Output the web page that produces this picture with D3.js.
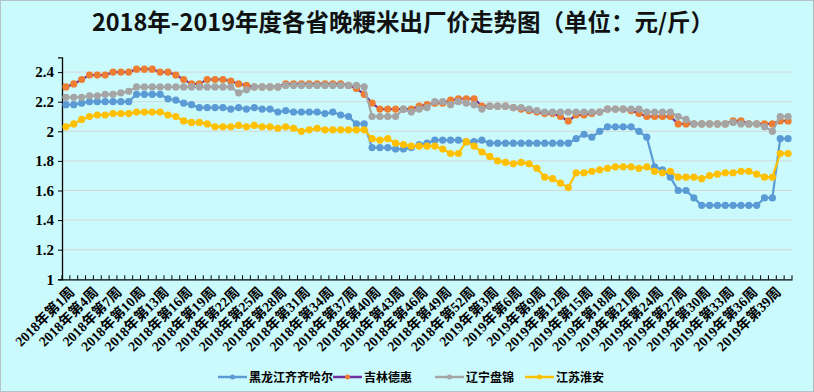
<!DOCTYPE html>
<html><head><meta charset="utf-8">
<script src="https://cdn.jsdelivr.net/npm/d3@7"></script>
<style>
html,body{margin:0;padding:0;background:#CBFAFC;}
svg{display:block;}
</style></head>
<body>
<svg id="c" width="814" height="392"></svg>
<script>
const weeks2018 = ["2018年第1周","2018年第2周","2018年第3周","2018年第4周","2018年第5周","2018年第6周","2018年第7周","2018年第8周","2018年第9周","2018年第10周","2018年第11周","2018年第12周","2018年第13周","2018年第14周","2018年第15周","2018年第16周","2018年第17周","2018年第18周","2018年第19周","2018年第20周","2018年第21周","2018年第22周","2018年第23周","2018年第24周","2018年第25周","2018年第26周","2018年第27周","2018年第28周","2018年第29周","2018年第30周","2018年第31周","2018年第32周","2018年第33周","2018年第34周","2018年第35周","2018年第36周","2018年第37周","2018年第38周","2018年第39周","2018年第40周","2018年第41周","2018年第42周","2018年第43周","2018年第44周","2018年第45周","2018年第46周","2018年第47周","2018年第48周","2018年第49周","2018年第50周","2018年第51周","2018年第52周"];
const weeks2019 = ["2019年第1周","2019年第2周","2019年第3周","2019年第4周","2019年第5周","2019年第6周","2019年第7周","2019年第8周","2019年第9周","2019年第10周","2019年第11周","2019年第12周","2019年第13周","2019年第14周","2019年第15周","2019年第16周","2019年第17周","2019年第18周","2019年第19周","2019年第20周","2019年第21周","2019年第22周","2019年第23周","2019年第24周","2019年第25周","2019年第26周","2019年第27周","2019年第28周","2019年第29周","2019年第30周","2019年第31周","2019年第32周","2019年第33周","2019年第34周","2019年第35周","2019年第36周","2019年第37周","2019年第38周","2019年第39周","2019年第40周","2019年第41周"];
const categories = weeks2018.concat(weeks2019);

const seriesNames = ["黑龙江齐齐哈尔","吉林德惠","辽宁盘锦","江苏淮安"];

const heilongjiang = [2.18,2.18,2.19,2.20,2.20,2.20,2.20,2.20,2.20,2.25,2.25,2.25,2.25,2.22,2.21,2.19,2.18,2.16,2.16,2.16,
2.16,2.15,2.16,2.15,2.16,2.15,2.15,2.13,2.14,2.13,2.13,2.13,2.13,2.12,2.13,2.11,2.10,2.05,2.05,1.89,
1.89,1.89,1.88,1.88,1.89,1.91,1.92,1.94,1.94,1.94,1.94,1.93,1.93,1.94,1.92,1.92,1.92,1.92,1.92,1.92,
1.92,1.92,1.92,1.92,1.92,1.95,1.98,1.96,2.00,2.03,2.03,2.03,2.03,2.00,1.96,1.76,1.74,1.69,1.60,1.60,
1.55,1.50,1.50,1.50,1.50,1.50,1.50,1.50,1.50,1.55,1.55,1.95,1.95];

const jilin = [2.30,2.32,2.35,2.38,2.38,2.38,2.40,2.40,2.40,2.42,2.42,2.42,2.40,2.40,2.38,2.35,2.32,2.32,2.35,2.35,
2.35,2.34,2.32,2.31,2.30,2.30,2.30,2.30,2.32,2.32,2.32,2.32,2.32,2.32,2.32,2.32,2.31,2.29,2.25,2.19,
2.15,2.15,2.15,2.15,2.15,2.17,2.18,2.19,2.19,2.21,2.22,2.22,2.22,2.17,2.17,2.17,2.17,2.16,2.15,2.14,
2.13,2.12,2.12,2.10,2.07,2.11,2.11,2.12,2.13,2.15,2.15,2.15,2.14,2.12,2.10,2.10,2.10,2.10,2.05,2.05,
2.05,2.05,2.05,2.05,2.05,2.07,2.07,2.05,2.05,2.05,2.05,2.07,2.07];

const liaoning = [2.23,2.23,2.23,2.24,2.24,2.25,2.25,2.26,2.27,2.30,2.30,2.30,2.30,2.30,2.30,2.30,2.30,2.30,2.30,2.30,
2.30,2.30,2.26,2.28,2.30,2.30,2.30,2.30,2.31,2.31,2.31,2.31,2.31,2.31,2.31,2.31,2.31,2.31,2.30,2.10,
2.10,2.10,2.10,2.15,2.13,2.15,2.16,2.20,2.20,2.18,2.20,2.19,2.18,2.15,2.17,2.17,2.17,2.16,2.16,2.15,
2.14,2.13,2.13,2.13,2.13,2.13,2.13,2.13,2.13,2.15,2.15,2.15,2.15,2.15,2.13,2.13,2.13,2.13,2.10,2.08,
2.05,2.05,2.05,2.05,2.05,2.06,2.05,2.05,2.05,2.03,2.00,2.10,2.10];

const jiangsu = [2.03,2.05,2.08,2.10,2.11,2.11,2.12,2.12,2.12,2.13,2.13,2.13,2.13,2.11,2.10,2.07,2.06,2.06,2.05,2.03,
2.03,2.03,2.04,2.03,2.04,2.03,2.03,2.02,2.03,2.02,2.00,2.01,2.02,2.01,2.01,2.01,2.01,2.01,2.01,1.95,
1.94,1.95,1.92,1.91,1.90,1.90,1.90,1.90,1.88,1.85,1.85,1.93,1.90,1.86,1.83,1.80,1.79,1.78,1.79,1.78,
1.75,1.69,1.68,1.65,1.62,1.72,1.72,1.73,1.74,1.75,1.76,1.76,1.76,1.75,1.76,1.73,1.72,1.73,1.69,1.69,
1.69,1.68,1.70,1.71,1.72,1.72,1.73,1.73,1.71,1.69,1.69,1.85,1.85];

const yTicks = [1,1.2,1.4,1.6,1.8,2,2.2,2.4];
const lineColors = ["#5B9BD5","#7030A0","#A5A5A5","#FFC000"];
const markerColors = ["#5B9BD5","#ED7D31","#A5A5A5","#FFC000"];
const seriesValues = [heilongjiang, jilin, liaoning, jiangsu];

const svg = d3.select("#c");
const W = 814, H = 392;
const L = 62, R = 792, T = 57.3, B = 279.3;

svg.append("rect").attr("x",0.5).attr("y",0.5).attr("width",W-1).attr("height",H-1)
  .attr("fill","#CBFAFC").attr("stroke","#B4C4C6");

svg.append("text").attr("x",403).attr("y",31).attr("text-anchor","middle")
  .attr("font-family","'Noto Sans CJK SC', sans-serif").attr("font-weight","bold")
  .attr("font-size",23.5).attr("fill","#111")
  .text("2018年-2019年度各省晚粳米出厂价走势图（单位：元/斤）");

const x = d3.scaleBand().domain(categories).range([L,R]).padding(0);
const y = d3.scaleLinear().domain([1,2.5]).range([B,T]);

// gridlines
svg.append("g").selectAll("line").data(yTicks.filter(d=>d>1)).join("line")
  .attr("x1",L).attr("x2",R).attr("y1",d=>y(d)).attr("y2",d=>y(d))
  .attr("stroke","#D4D8D8").attr("stroke-width",1);

// y axis
const yAxis = svg.append("g").attr("transform",`translate(${L},0)`)
  .call(d3.axisLeft(y).tickValues(yTicks).tickSize(4).tickFormat(d=>d3.format("")(d)));
yAxis.select(".domain").attr("stroke","#000").attr("stroke-width",1.3);
yAxis.selectAll(".tick line").attr("stroke","#000");
yAxis.selectAll("text").attr("font-family","'Liberation Serif', serif").attr("font-weight","bold")
  .attr("font-size",15).attr("fill","#000").attr("x",-8);

// x axis
const labelCats = categories.filter((d,i)=>i%3===0);
const xAxis = svg.append("g").attr("transform",`translate(0,${B})`)
  .call(d3.axisBottom(x).tickValues(labelCats).tickSize(0));
xAxis.select(".domain").attr("stroke","#000").attr("stroke-width",1.3);
xAxis.selectAll("text")
  .attr("font-family","'Liberation Serif', 'Noto Sans CJK SC', serif").attr("font-weight","bold")
  .attr("font-size",14).attr("fill","#000")
  .attr("text-anchor","end").attr("dy","0.35em")
  .attr("transform","translate(4,8) rotate(-45)");
// inside ticks at category boundaries
const bounds = categories.map(c=>x(c)).concat([x(categories[categories.length-1])+x.bandwidth()]);
svg.append("g").selectAll("line").data(bounds).join("line")
  .attr("x1",d=>d).attr("x2",d=>d).attr("y1",B).attr("y2",B-4)
  .attr("stroke","#000").attr("stroke-width",1);

// series
const cx = (c)=>x(c)+x.bandwidth()/2;
const line = d3.line().x((d,i)=>cx(categories[i])).y(d=>y(d));
const order = [0,3,1,2];
order.forEach(s=>{
  const g = svg.append("g");
  g.append("path").datum(seriesValues[s]).attr("d",line)
    .attr("fill","none").attr("stroke",lineColors[s]).attr("stroke-width",2.2);
  g.selectAll("circle").data(seriesValues[s]).join("circle")
    .attr("cx",(d,i)=>cx(categories[i])).attr("cy",d=>y(d)).attr("r",3.6)
    .attr("fill",markerColors[s]);
});

// legend
const legX = [218,333,435,525];
const lg = svg.append("g");
seriesNames.forEach((n,s)=>{
  const gx = legX[s], gy = 377;
  lg.append("line").attr("x1",gx).attr("x2",gx+29).attr("y1",gy).attr("y2",gy)
    .attr("stroke",lineColors[s]).attr("stroke-width",2.5);
  lg.append("circle").attr("cx",gx+14.5).attr("cy",gy).attr("r",2.5).attr("fill",markerColors[s]);
  lg.append("text").attr("x",gx+31).attr("y",gy+4.5)
    .attr("font-family","'Noto Sans CJK SC', sans-serif").attr("font-weight","bold")
    .attr("font-size",12).attr("fill","#000").text(n);
});
</script>
</body></html>
